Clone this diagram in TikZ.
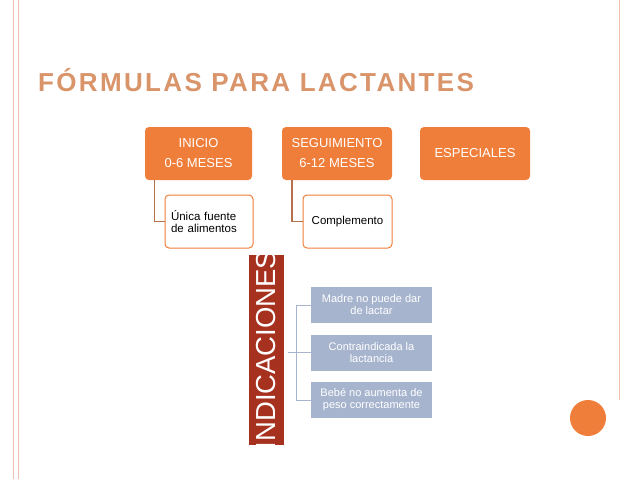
\documentclass[tikz,border=0pt]{standalone}
\usepackage{fontspec}
\setmainfont{Liberation Sans}
\begin{document}
\begin{tikzpicture}[x=1pt,y=-1pt,
  ob/.style={draw=none,fill=orangeC,rounded corners=4pt,text=white,align=center,font=\fontsize{13}{20}\selectfont},
  wb/.style={draw=orangeC,line width=1pt,fill=white,rounded corners=4pt,align=left,font=\fontsize{11.5}{12.5}\selectfont},
  bb/.style={fill=blueC,text=white,align=center,font=\fontsize{11}{12}\selectfont,inner sep=0pt},
  con/.style={draw=brownC,line width=1.2pt},
  bcon/.style={draw=blueC,line width=0.8pt}]
\definecolor{orangeC}{HTML}{F07E3B}
\definecolor{brownC}{HTML}{B5714A}
\definecolor{blueC}{HTML}{A7B4CE}
\definecolor{redC}{HTML}{A6311F}
\definecolor{lineC}{HTML}{EBC0AE}
\definecolor{titleC}{HTML}{D9946A}
\useasboundingbox (0,0) rectangle (638,479);
\fill[white] (0,0) rectangle (638,479);
\draw[lineC,line width=1pt] (13,0) -- (13,479);
\draw[lineC,line width=1pt] (18,0) -- (18,479);
\draw[lineC,line width=1pt] (619,0) -- (619,400);
\fill[orangeC] (588,418) circle (18);
\node[text=titleC,font=\fontsize{26}{26}\selectfont\bfseries\addfontfeature{LetterSpace=9},anchor=west,inner sep=0pt] (title) at (38,80) {FÓRMULAS PARA LACTANTES};
\node[ob,minimum width=107pt,minimum height=53pt] (ini) at (198.5,153.5) {INICIO\\0-6 MESES};
\node[ob,minimum width=110pt,minimum height=53pt] (seg) at (337,153.5) {SEGUIMIENTO\\6-12 MESES};
\node[ob,minimum width=110pt,minimum height=53pt] (esp) at (475,153.5) {ESPECIALES};
\node[wb,minimum width=88pt,minimum height=53pt,text width=76pt] (uni) at (209,221.5) {Única fuente\\de alimentos};
\node[wb,minimum width=89pt,minimum height=53pt] (com) at (347.5,221.5) {Complemento};
\draw[con] ([xshift=-44pt]ini.south) |- (uni.west);
\draw[con] ([xshift=-45pt]seg.south) |- (com.west);
\node[fill=redC,minimum width=35pt,minimum height=190pt,inner sep=0pt] (ind) at (266.5,350) {};
\node[rotate=90,text=white,font=\fontsize{27.5}{27}\selectfont] at (ind.center) {INDICACIONES};
\node[bb,minimum width=121pt,minimum height=36pt] (b1) at (371.5,305) {Madre no puede dar\\de lactar};
\node[bb,minimum width=121pt,minimum height=36pt] (b2) at (371.5,352.5) {Contraindicada la\\lactancia};
\node[bb,minimum width=121pt,minimum height=36pt] (b3) at (371.5,400) {Bebé no aumenta de\\peso correctamente};
\coordinate (j) at (297,352.5);
\draw[bcon] (ind.east |- j) ++(4,0) -- (j);
\draw[bcon] (b1.west) -- ++(-14,0) |- (b3.west);
\draw[bcon] (j) -- (b2.west);
\end{tikzpicture}
\end{document}
